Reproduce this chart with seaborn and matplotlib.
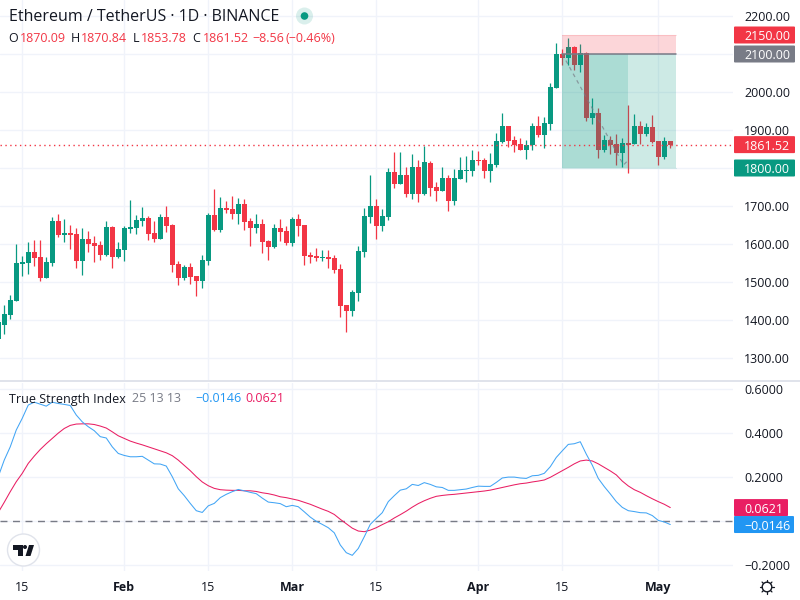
"""TradingView style ETH/USDT daily chart with True Strength Index pane."""

import matplotlib.pyplot as plt
from matplotlib.patches import Circle, FancyBboxPatch, Polygon
import numpy as np
import pandas as pd
import seaborn as sns

# one entry per day, first candle is 2023-01-11
first_day = "2023-01-11"
opens = [1350, 1387, 1413, 1450, 1548, 1550, 1579, 1566, 1511, 1550,
         1661, 1624, 1629, 1626, 1555, 1613, 1603, 1597, 1571, 1645,
         1566, 1584, 1640, 1642, 1660, 1668, 1629, 1613, 1671, 1650,
         1547, 1511, 1540, 1516, 1503, 1555, 1676, 1637, 1695, 1692,
         1679, 1705, 1661, 1642, 1653, 1608, 1592, 1642, 1634, 1603,
         1666, 1650, 1571, 1568, 1563, 1566, 1563, 1534, 1440, 1424,
         1471, 1579, 1671, 1700, 1647, 1671, 1790, 1758, 1782, 1732,
         1803, 1732, 1813, 1750, 1740, 1774, 1713, 1771, 1792, 1792,
         1821, 1821, 1792, 1808, 1869, 1911, 1874, 1863, 1847, 1860,
         1911, 1887, 1916, 2010, 2100, 2090, 2118, 2071, 2103, 1932,
         1945, 1847, 1874, 1863, 1840, 1866, 1862, 1911, 1889, 1908,
         1871, 1829, 1870.09]
highs = [1395, 1440, 1466, 1600, 1568, 1605, 1611, 1611, 1566, 1671,
         1679, 1666, 1650, 1642, 1642, 1634, 1621, 1608, 1660, 1647,
         1605, 1647, 1716, 1676, 1697, 1674, 1660, 1679, 1700, 1653,
         1555, 1545, 1550, 1516, 1571, 1682, 1745, 1724, 1713, 1726,
         1721, 1718, 1668, 1679, 1666, 1611, 1653, 1666, 1647, 1671,
         1679, 1650, 1579, 1589, 1584, 1584, 1571, 1547, 1440, 1479,
         1595, 1695, 1782, 1719, 1692, 1800, 1842, 1842, 1803, 1837,
         1821, 1858, 1818, 1763, 1803, 1782, 1797, 1829, 1832, 1847,
         1845, 1826, 1840, 1892, 1945, 1911, 1884, 1879, 1874, 1918,
         1937, 1934, 2024, 2129, 2113, 2142, 2121, 2126, 2105, 1984,
         1958, 1887, 1884, 1890, 1879, 1966, 1942, 1924, 1918, 1939,
         1871, 1882, 1870.84]
lows = [1335, 1363, 1403, 1450, 1516, 1521, 1542, 1503, 1511, 1542,
        1618, 1605, 1587, 1537, 1518, 1579, 1553, 1558, 1568, 1537,
        1563, 1555, 1629, 1626, 1647, 1611, 1605, 1613, 1632, 1526,
        1492, 1505, 1495, 1463, 1484, 1545, 1634, 1632, 1682, 1666,
        1653, 1637, 1595, 1629, 1576, 1558, 1589, 1608, 1597, 1595,
        1621, 1545, 1550, 1555, 1555, 1537, 1524, 1408, 1368, 1411,
        1450, 1566, 1655, 1613, 1634, 1663, 1747, 1758, 1724, 1719,
        1711, 1729, 1726, 1713, 1740, 1687, 1703, 1771, 1763, 1779,
        1808, 1774, 1763, 1803, 1866, 1855, 1842, 1847, 1824, 1847,
        1882, 1853, 1900, 2010, 2071, 2071, 2058, 2053, 1924, 1916,
        1826, 1842, 1837, 1808, 1803, 1787, 1862, 1863, 1884, 1866,
        1808, 1824, 1853.78]
closes = [1395, 1416, 1453, 1550, 1553, 1579, 1563, 1511, 1553, 1661,
          1624, 1629, 1624, 1555, 1613, 1600, 1595, 1571, 1645, 1566,
          1587, 1642, 1645, 1663, 1668, 1626, 1613, 1671, 1647, 1545,
          1511, 1540, 1513, 1503, 1558, 1676, 1637, 1695, 1690, 1679,
          1705, 1658, 1642, 1653, 1605, 1592, 1642, 1632, 1603, 1666,
          1647, 1568, 1566, 1563, 1566, 1561, 1532, 1437, 1424, 1474,
          1582, 1674, 1700, 1647, 1674, 1790, 1758, 1782, 1732, 1803,
          1732, 1816, 1747, 1740, 1774, 1713, 1774, 1795, 1795, 1821,
          1818, 1792, 1811, 1871, 1911, 1871, 1861, 1847, 1861, 1911,
          1887, 1918, 2013, 2100, 2090, 2118, 2071, 2103, 1932, 1945,
          1847, 1874, 1861, 1840, 1866, 1861, 1911, 1889, 1908, 1868,
          1829, 1871, 1861.52]

tsi_line = [0.202, 0.277, 0.337, 0.413, 0.466, 0.526, 0.539, 0.530, 0.521, 0.539,
            0.533, 0.529, 0.524, 0.481, 0.450, 0.428, 0.410, 0.383, 0.377, 0.337,
            0.307, 0.298, 0.292, 0.292, 0.294, 0.277, 0.260, 0.259, 0.250, 0.202,
            0.147, 0.116, 0.081, 0.048, 0.040, 0.070, 0.081, 0.107, 0.122, 0.134,
            0.144, 0.138, 0.131, 0.125, 0.105, 0.087, 0.084, 0.080, 0.066, 0.072,
            0.066, 0.043, 0.019, 0.000, -0.014, -0.029, -0.052, -0.107, -0.142, -0.154,
            -0.123, -0.070, -0.014, 0.013, 0.039, 0.089, 0.116, 0.141, 0.147, 0.167,
            0.162, 0.175, 0.167, 0.156, 0.153, 0.140, 0.140, 0.143, 0.146, 0.153,
            0.159, 0.158, 0.158, 0.176, 0.196, 0.200, 0.200, 0.196, 0.194, 0.206,
            0.208, 0.217, 0.247, 0.289, 0.319, 0.348, 0.351, 0.360, 0.304, 0.254,
            0.194, 0.157, 0.124, 0.089, 0.063, 0.048, 0.044, 0.039, 0.038, 0.026,
            0.004, -0.003, -0.0146]
tsi_signal = [0.040, 0.086, 0.134, 0.179, 0.217, 0.262, 0.295, 0.325, 0.351, 0.375,
              0.399, 0.420, 0.434, 0.440, 0.441, 0.441, 0.438, 0.431, 0.422, 0.405,
              0.387, 0.375, 0.363, 0.354, 0.346, 0.337, 0.328, 0.319, 0.310, 0.297,
              0.277, 0.253, 0.229, 0.202, 0.178, 0.161, 0.149, 0.143, 0.141, 0.140,
              0.140, 0.138, 0.138, 0.135, 0.129, 0.125, 0.119, 0.111, 0.107, 0.101,
              0.095, 0.086, 0.077, 0.066, 0.055, 0.045, 0.031, 0.009, -0.011, -0.031,
              -0.044, -0.047, -0.040, -0.029, -0.015, -0.002, 0.015, 0.030, 0.046, 0.064,
              0.080, 0.093, 0.104, 0.113, 0.117, 0.120, 0.122, 0.125, 0.128, 0.131,
              0.134, 0.137, 0.141, 0.147, 0.153, 0.159, 0.165, 0.170, 0.173, 0.178,
              0.182, 0.187, 0.199, 0.214, 0.229, 0.244, 0.260, 0.273, 0.277, 0.273,
              0.260, 0.244, 0.228, 0.210, 0.182, 0.160, 0.143, 0.131, 0.116, 0.102,
              0.089, 0.077, 0.0621]

price_ticks = [1300, 1400, 1500, 1600, 1700, 1800, 1900, 2000, 2100, 2200]
tsi_ticks = [-0.2, 0.0, 0.2, 0.4, 0.6]
tsi_tick_labels = ["\u22120.2000", "", "0.2000", "0.4000", "0.6000"]
date_ticks = ["2023-01-15", "2023-02-01", "2023-02-15", "2023-03-01", "2023-03-15",
              "2023-04-01", "2023-04-15", "2023-05-01"]
date_labels = ["15", "Feb", "15", "Mar", "15", "Apr", "15", "May"]

# long position drawing
entry_day = "2023-04-15 00:00"
close_day = "2023-04-26 00:00"
end_day = "2023-05-03 21:00"
stop_price, entry_price, target_price = 2150, 2100, 1800
path_days = ["2023-04-15 00:00", "2023-04-25 05:00", "2023-04-26 00:00"]
path_prices = [2100, 1808, 1821]

GREEN = "#089981"
RED = "#F23645"
GRAY = "#787B86"
BLUE = "#2196F3"
PINK = "#E91E63"
TEXT = "#131722"
GRID = "#F0F3FA"

sns.set_theme(style="white")
plt.rcParams['font.family'] = ['Open Sans', 'DejaVu Sans']

fig = plt.figure(figsize=(8, 6), dpi=100)
ax = fig.add_axes([0, 1 - 381 / 600, 733 / 800, 381 / 600])
ax_tsi = fig.add_axes([0, 1 - 571 / 600, 733 / 800, 188 / 600])

dates = pd.date_range(first_day, periods=len(closes), freq="D")
o, h, l, c = map(np.array, (opens, highs, lows, closes))
colors = np.where(c >= o, GREEN, RED)

# candles
ax.vlines(dates, l, h, colors=colors, linewidth=0.9, zorder=2)
body = np.maximum(np.abs(c - o), 1.5)
ax.bar(dates, body, bottom=np.minimum(o, c), width=0.8, color=colors, linewidth=0, zorder=3)

# position tool sits on top of the candles
span = pd.to_datetime([entry_day, end_day])
profit = pd.to_datetime([entry_day, close_day])
ax.fill_between(span, entry_price, stop_price, color=RED, alpha=0.2, linewidth=0, zorder=4)
ax.fill_between(span, target_price, entry_price, color=GREEN, alpha=0.2, linewidth=0, zorder=4)
ax.fill_between(profit, target_price, entry_price, color=GREEN, alpha=0.17, linewidth=0, zorder=4)
ax.plot(span, [stop_price] * 2, color=RED, alpha=0.15, lw=0.8, zorder=5)
ax.plot(span, [entry_price] * 2, color=GRAY, lw=1.1, zorder=5)
ax.plot(span, [target_price] * 2, color=GREEN, alpha=0.15, lw=0.8, zorder=5)
ax.plot(pd.to_datetime(path_days), path_prices, color=GRAY, lw=0.9, alpha=0.7, ls=(0, (3, 3)), zorder=5)

ax.axhline(closes[-1], color=RED, lw=1, ls=(0, (1, 2.5)), zorder=6)

# TSI pane
sns.lineplot(x=dates, y=tsi_signal, ax=ax_tsi, color=PINK, linewidth=0.75, estimator=None, legend=False)
sns.lineplot(x=dates, y=tsi_line, ax=ax_tsi, color="#42A5F5", linewidth=0.75, estimator=None, legend=False)
ax_tsi.axhline(0, color=GRAY, lw=1, ls=(0, (5, 4)), zorder=1)

xlim = pd.to_datetime(["2023-01-11 07:00", "2023-05-13 10:50"])
tick_dates = pd.to_datetime(date_ticks)
for a in (ax, ax_tsi):
    a.set_xlim(xlim)
    a.set_xticks(tick_dates)
    a.grid(True, color=GRID, linewidth=1)
    a.set_axisbelow(True)
    a.yaxis.tick_right()
    a.tick_params(length=0, labelsize=9, labelcolor=TEXT, pad=8)
    a.set_xlabel("")
    a.set_ylabel("")
    for spine in a.spines.values():
        spine.set_visible(False)

ax.set_ylim(1239.5, 2242.1)
ax.set_yticks(price_ticks)
ax.set_yticklabels([f"{p:.2f}" for p in price_ticks])
for label in ax.get_yticklabels():
    label.set_horizontalalignment("left")
ax.tick_params(axis="x", labelbottom=False)

ax_tsi.set_ylim(-0.2249, 0.6258)
ax_tsi.set_yticks(tsi_ticks)
ax_tsi.set_yticklabels(tsi_tick_labels)
ax_tsi.set_xticklabels(date_labels)
ax_tsi.tick_params(axis="x", pad=7.5)
for label in ax_tsi.get_xticklabels():
    if label.get_text() != "15":
        label.set_fontweight("bold")

# pixel overlay for legends, tags and logo
over = fig.add_axes([0, 0, 1, 1], facecolor="none", zorder=10)
over.set_xlim(0, 800)
over.set_ylim(600, 0)
over.axis("off")
over.plot([0, 800], [381, 381], color="#E0E3EB", lw=1.4)


def price_tag(axis, value, text, color, width=61):
    """Coloured label on the price scale, centred on value."""
    y = 600 - axis.transData.transform((0, value))[1]
    over.add_patch(FancyBboxPatch((735, y - 7.5), width - 2, 15, boxstyle="round,pad=1",
                                  facecolor=color, edgecolor="none"))
    over.text(744, y, text, color="white", fontsize=9, va="center_baseline", ha="left")


price_tag(ax, stop_price, "2150.00", RED)
price_tag(ax, entry_price, "2100.00", GRAY)
price_tag(ax, closes[-1], f"{closes[-1]:.2f}", RED)
price_tag(ax, target_price, "1800.00", GREEN)
price_tag(ax_tsi, tsi_signal[-1], f"{tsi_signal[-1]:.4f}", PINK, width=54)
price_tag(ax_tsi, tsi_line[-1], f"\u2212{abs(tsi_line[-1]):.4f}", BLUE, width=60)

over.text(9, 17, "Ethereum / TetherUS \u00b7 1D \u00b7 BINANCE", color=TEXT, fontsize=11.5, va="center")
over.add_patch(Circle((304.5, 16), 8.5, facecolor=GREEN, alpha=0.15, edgecolor="none"))
over.add_patch(Circle((304.5, 16), 3.8, facecolor=GREEN, edgecolor="none"))

ohlc_parts = [(8, "O", TEXT), (20, f"{opens[-1]:.2f}", RED), (71, "H", TEXT), (81, f"{highs[-1]:.2f}", RED),
              (133, "L", TEXT), (141, f"{lows[-1]:.2f}", RED), (192, "C", TEXT), (203, f"{closes[-1]:.2f}", RED),
              (252, "\u22128.56", RED), (285, "(\u22120.46%)", RED)]
for x, text, color in ohlc_parts:
    over.text(x, 39, text, color=color, fontsize=9, va="center")

legend_parts = [(9, "True Strength Index", TEXT), (132, "25 13 13", GRAY),
                (195, f"\u2212{abs(tsi_line[-1]):.4f}", BLUE), (245, f"{tsi_signal[-1]:.4f}", PINK)]
for x, text, color in legend_parts:
    over.text(x, 399, text, color=color, fontsize=9, va="center")

# TradingView logo
over.add_patch(Circle((23.5, 550), 16, facecolor="white", edgecolor="#E0E3EB", lw=1))
logo = [[(13, 545), (23, 545), (23, 556), (18, 556), (18, 550), (13, 550)],
        [(29, 545), (34, 545), (30.5, 556), (25.5, 556)]]
for points in logo:
    over.add_patch(Polygon(points, closed=True, facecolor=TEXT, edgecolor="none"))
over.add_patch(Circle((25, 547), 2, facecolor=TEXT, edgecolor="none"))

# settings icon
over.add_patch(Circle((767, 587), 4.8, facecolor="white", edgecolor=TEXT, lw=1))
for angle in np.deg2rad(np.arange(0, 360, 45)):
    over.plot([767 + 4.8 * np.cos(angle), 767 + 7 * np.cos(angle)],
              [587 + 4.8 * np.sin(angle), 587 + 7 * np.sin(angle)], color=TEXT, lw=0.9)

plt.savefig("out.png", dpi=100)
